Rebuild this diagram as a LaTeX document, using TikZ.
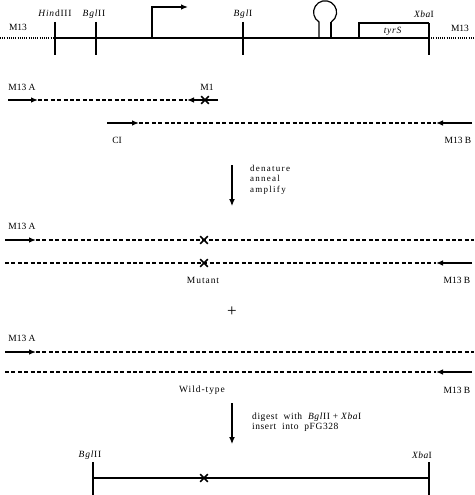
\documentclass[tikz,border=0pt]{standalone}
\usepackage{fontspec}
\setmainfont{Liberation Serif}
\usetikzlibrary{arrows.meta,shapes.misc}
\begin{document}
\begin{tikzpicture}[x=1pt,y=-1pt,
  lbl/.style={font=\fontsize{9.5}{11}\selectfont, inner sep=0pt},
  dna/.style={line width=1.2pt},
  dsh/.style={line width=1.2pt, dash pattern=on 4pt off 2.4pt},
  dot/.style={line width=1.1pt, dash pattern=on 1pt off 1.2pt},
  tick/.style={line width=1.2pt},
  tip/.style={-{Latex[length=7pt,width=5.5pt]}},
  xmark/.style={cross out, draw, line width=1.6pt, minimum size=6pt, inner sep=0pt},
  flow/.style={line width=1.2pt,-{Latex[length=7pt,width=6pt]}}]
\useasboundingbox (0,0) rectangle (474,495);
% ---------- top map ----------
\coordinate (L0) at (0,38); \coordinate (Hd) at (55,38); \coordinate (Xb) at (429,38); \coordinate (R0) at (474,38);
\draw[dot] (L0) -- (Hd);
\draw[dna] (Hd) -- (Xb);
\draw[dot] (Xb) -- (R0);
\node[lbl] (m13l) at (18,27) {M13};
\node[lbl] (m13r) at (460,28) {M13};
\draw[tick] (55,22) -- (55,55);
\node[lbl, font=\fontsize{9.5}{11}\selectfont\addfontfeature{LetterSpace=8}] (hind) at (55,13) {\textit{Hin}dIII};
\draw[tick] (96,22) -- (96,55);
\node[lbl, font=\fontsize{9.5}{11}\selectfont\addfontfeature{LetterSpace=8}] (bgl2) at (94,14) {\textit{Bgl}II};
\draw[dna,tip] (152,38) -- (152,7) -- (188,7);
\draw[tick] (243,22) -- (243,55);
\node[lbl, font=\fontsize{9.5}{11}\selectfont\addfontfeature{LetterSpace=8}] (bgl1) at (243,14) {\textit{Bgl}I};
\draw[dna] (319,38) -- (319,22) arc[start angle=122,end angle=418,radius=11.5];
\draw[dna] (331,38) -- (331,22);
\draw[dna] (359,38) -- (359,23) -- (429,23);
\draw[tick] (429,23) -- (429,55);
\node[lbl, font=\fontsize{9.5}{11}\selectfont\addfontfeature{LetterSpace=8}] (tyrs) at (393,31) {\textit{tyrS}};
\node[lbl, font=\fontsize{9.5}{11}\selectfont\addfontfeature{LetterSpace=4}] (xba) at (424,14) {\textit{Xba}I};
% ---------- primers ----------
\node[lbl] (m13a1) at (22,87) {M13 A};
\node[lbl] (m1) at (207,87) {M1};
\coordinate (a1s) at (8,100); \coordinate (a1e) at (38,100);
\coordinate (m1s) at (218,100); \coordinate (m1e) at (187,100);
\draw[dna,tip] (a1s) -- (a1e);
\draw[dsh] (a1e) -- (m1e);
\draw[dna,tip] (m1s) -- (m1e);
\node[xmark] (x1) at (205,100) {};
\coordinate (cis) at (107,123); \coordinate (cie) at (139,123);
\coordinate (b1s) at (472,123); \coordinate (b1e) at (436,123);
\draw[dna,tip] (cis) -- (cie);
\draw[dsh] (cie) -- (b1e);
\draw[dna,tip] (b1s) -- (b1e);
\node[lbl] (ci) at (117,140) {CI};
\node[lbl] (m13b1) at (458,140) {M13 B};
% ---------- step 1 ----------
\coordinate (f1s) at (232,165); \coordinate (f1e) at (232,206);
\draw[flow] (f1s) -- (f1e);
\node[lbl, anchor=north west, align=left, font=\fontsize{9}{10.5}\selectfont\addfontfeature{LetterSpace=14}] (t1) at (250,165) {denature\\anneal\\amplify};
% ---------- mutant ----------
\node[lbl] (m13a2) at (22,226) {M13 A};
\coordinate (a2s) at (5,240); \coordinate (a2e) at (36,240); \coordinate (a2r) at (474,240);
\draw[dna,tip] (a2s) -- (a2e);
\draw[dsh] (a2e) -- (a2r);
\node[xmark] (x2) at (204,240) {};
\coordinate (b2l) at (5,263); \coordinate (b2s) at (472,263); \coordinate (b2e) at (436,263);
\draw[dsh] (b2l) -- (b2e);
\draw[dna,tip] (b2s) -- (b2e);
\node[xmark] (x3) at (204,263) {};
\node[lbl, font=\fontsize{9.5}{11}\selectfont\addfontfeature{LetterSpace=10}] (mut) at (203,280) {Mutant};
\node[lbl] (m13b2) at (457,280) {M13 B};
\node[lbl, font=\fontsize{17}{17}\selectfont] (plus) at (232,312) {+};
% ---------- wild type ----------
\node[lbl] (m13a3) at (22,338) {M13 A};
\coordinate (a3s) at (5,352); \coordinate (a3e) at (36,352); \coordinate (a3r) at (474,352);
\draw[dna,tip] (a3s) -- (a3e);
\draw[dsh] (a3e) -- (a3r);
\coordinate (b3l) at (5,372); \coordinate (b3s) at (472,372); \coordinate (b3e) at (436,372);
\draw[dsh] (b3l) -- (b3e);
\draw[dna,tip] (b3s) -- (b3e);
\node[lbl, font=\fontsize{9.5}{11}\selectfont\addfontfeature{LetterSpace=10}] (wt) at (202,390) {Wild-type};
\node[lbl] (m13b3) at (457,390) {M13 B};
% ---------- step 2 ----------
\coordinate (f2s) at (232,403); \coordinate (f2e) at (232,444);
\draw[flow] (f2s) -- (f2e);
\node[lbl, anchor=north west, align=left, font=\fontsize{9.5}{9.5}\selectfont\addfontfeature{LetterSpace=6}] (t2) at (252,413) {digest\ \ with\ \ \textit{Bgl}II + \textit{Xba}I\\insert\ \ into\ \ pFG328};
% ---------- product ----------
\node[lbl, font=\fontsize{9.5}{11}\selectfont\addfontfeature{LetterSpace=8}] (bgl3) at (90,455) {\textit{Bgl}II};
\node[lbl, font=\fontsize{9.5}{11}\selectfont\addfontfeature{LetterSpace=4}] (xba2) at (422,455) {\textit{Xba}I};
\coordinate (pl) at (93,478); \coordinate (pr) at (429,478);
\draw[tick] (93,462) -- (93,495);
\draw[tick] (429,462) -- (429,495);
\draw[dna] (pl) -- (pr);
\node[xmark] (x4) at (204,478) {};
\end{tikzpicture}
\end{document}
